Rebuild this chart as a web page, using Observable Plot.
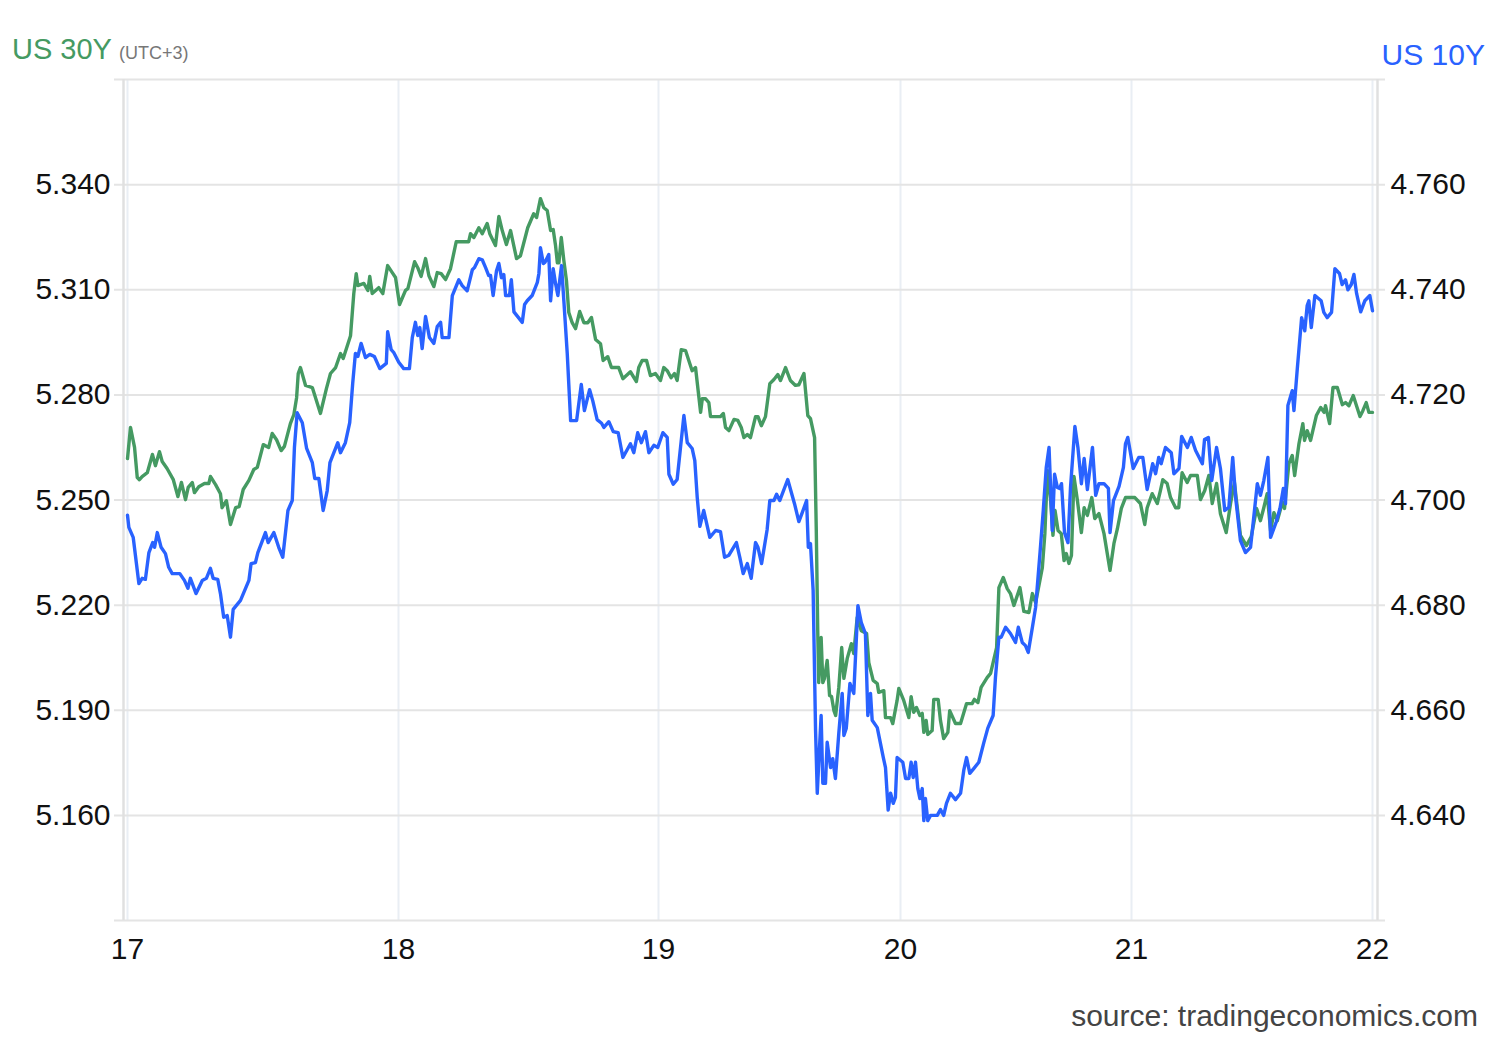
<!DOCTYPE html>
<html>
<head>
<meta charset="utf-8">
<script src="https://cdn.jsdelivr.net/npm/d3@7"></script>
<script src="https://cdn.jsdelivr.net/npm/@observablehq/plot@0.6"></script>
<style>
  html, body { margin: 0; padding: 0; background: #fff; }
  #chart { width: 1500px; height: 1040px; }
</style>
</head>
<body>
<div id="chart"></div>
<script>
// ---- data ----
const days = [17, 18, 19, 20, 21, 22];
const leftTicks = [5.16, 5.19, 5.22, 5.25, 5.28, 5.31, 5.34];
const rightTicks = [4.64, 4.66, 4.68, 4.70, 4.72, 4.74, 4.76];
const gridLevels = [5.13, 5.16, 5.19, 5.22, 5.25, 5.28, 5.31, 5.34, 5.37];

// US 30Y yield: [day (fractional, UTC+3), value]
const us30Y = [
[17.000,5.2618],[17.011,5.2707],[17.026,5.2650],[17.036,5.2564],[17.044,5.2558],[17.054,5.2567],[17.073,5.2578],[17.092,5.2630],[17.103,5.2598],[17.118,5.2638],
[17.128,5.2610],[17.146,5.2590],[17.169,5.2558],[17.186,5.2510],[17.199,5.2550],[17.214,5.2501],[17.224,5.2536],[17.239,5.2550],[17.247,5.2521],[17.263,5.2538],
[17.284,5.2547],[17.300,5.2547],[17.306,5.2567],[17.325,5.2544],[17.343,5.2518],[17.349,5.2478],[17.365,5.2498],[17.380,5.2430],[17.399,5.2478],[17.412,5.2481],
[17.427,5.2530],[17.448,5.2556],[17.466,5.2587],[17.479,5.2593],[17.501,5.2658],[17.521,5.2650],[17.534,5.2690],[17.550,5.2672],[17.567,5.2641],[17.579,5.2653],
[17.601,5.2718],[17.614,5.2744],[17.624,5.2792],[17.630,5.2861],[17.638,5.2878],[17.657,5.2827],[17.682,5.2821],[17.712,5.2747],[17.734,5.2818],[17.749,5.2861],
[17.768,5.2878],[17.786,5.2918],[17.796,5.2904],[17.823,5.2969],[17.835,5.3089],[17.844,5.3146],[17.850,5.3112],[17.872,5.3118],[17.887,5.3098],[17.894,5.3138],
[17.903,5.3089],[17.927,5.3106],[17.942,5.3089],[17.960,5.3169],[17.977,5.3149],[17.989,5.3135],[18.004,5.3058],[18.027,5.3098],[18.036,5.3103],[18.062,5.3180],
[18.074,5.3163],[18.087,5.3138],[18.104,5.3189],[18.117,5.3140],[18.136,5.3109],[18.149,5.3149],[18.164,5.3146],[18.181,5.3129],[18.200,5.3160],[18.222,5.3237],
[18.270,5.3237],[18.277,5.3260],[18.290,5.3249],[18.309,5.3277],[18.322,5.3260],[18.341,5.3289],[18.351,5.3260],[18.373,5.3226],[18.386,5.3309],[18.399,5.3269],
[18.415,5.3229],[18.431,5.3269],[18.454,5.3189],[18.469,5.3197],[18.497,5.3277],[18.520,5.3317],[18.531,5.3306],[18.546,5.3360],[18.559,5.3334],[18.572,5.3326],
[18.585,5.3269],[18.595,5.3272],[18.604,5.3226],[18.611,5.3177],[18.617,5.3177],[18.626,5.3249],[18.636,5.3183],[18.646,5.3126],[18.655,5.3035],[18.668,5.3006],
[18.681,5.2989],[18.697,5.3038],[18.713,5.3006],[18.728,5.3006],[18.742,5.3021],[18.758,5.2958],[18.777,5.2946],[18.787,5.2898],[18.805,5.2909],[18.819,5.2878],
[18.847,5.2878],[18.863,5.2846],[18.892,5.2866],[18.915,5.2838],[18.924,5.2878],[18.937,5.2898],[18.954,5.2898],[18.969,5.2855],[18.988,5.2861],[19.008,5.2841],
[19.022,5.2878],[19.036,5.2869],[19.052,5.2849],[19.066,5.2861],[19.077,5.2841],[19.094,5.2929],[19.112,5.2926],[19.139,5.2869],[19.153,5.2878],[19.174,5.2750],
[19.181,5.2789],[19.194,5.2789],[19.208,5.2778],[19.215,5.2738],[19.256,5.2738],[19.268,5.2747],[19.277,5.2707],[19.291,5.2698],[19.312,5.2730],[19.328,5.2727],
[19.342,5.2707],[19.353,5.2678],[19.367,5.2687],[19.380,5.2678],[19.401,5.2738],[19.411,5.2738],[19.425,5.2712],[19.442,5.2738],[19.460,5.2832],[19.477,5.2844],
[19.493,5.2858],[19.504,5.2841],[19.525,5.2878],[19.545,5.2841],[19.566,5.2827],[19.580,5.2829],[19.601,5.2861],[19.617,5.2741],[19.628,5.2732],[19.645,5.2678],
[19.652,5.2413],[19.658,5.2127],[19.662,5.1979],[19.672,5.2108],[19.679,5.1979],[19.686,5.1991],[19.697,5.2042],[19.707,5.1942],[19.715,5.1939],[19.725,5.1899],
[19.732,5.1885],[19.745,5.1965],[19.757,5.2079],[19.766,5.1991],[19.780,5.2048],[19.797,5.2090],[19.807,5.2062],[19.821,5.2165],[19.838,5.2127],[19.860,5.2119],
[19.869,5.2036],[19.887,5.1985],[19.904,5.1976],[19.910,5.1951],[19.931,5.1956],[19.938,5.1879],[19.959,5.1879],[19.968,5.1862],[19.986,5.1928],[19.993,5.1962],
[20.014,5.1928],[20.036,5.1879],[20.046,5.1939],[20.057,5.1894],[20.069,5.1908],[20.084,5.1885],[20.094,5.1891],[20.101,5.1837],[20.111,5.1871],[20.118,5.1831],
[20.137,5.1842],[20.144,5.1931],[20.163,5.1931],[20.173,5.1871],[20.187,5.1819],[20.205,5.1837],[20.213,5.1899],[20.238,5.1862],[20.260,5.1862],[20.286,5.1919],
[20.310,5.1919],[20.320,5.1931],[20.335,5.1922],[20.349,5.1965],[20.375,5.1993],[20.390,5.2005],[20.416,5.2079],[20.426,5.2250],[20.445,5.2279],[20.462,5.2247],
[20.476,5.2233],[20.491,5.2199],[20.517,5.2250],[20.534,5.2182],[20.556,5.2179],[20.571,5.2233],[20.585,5.2207],[20.614,5.2307],[20.625,5.2404],[20.636,5.2584],
[20.650,5.2498],[20.660,5.2399],[20.669,5.2470],[20.682,5.2413],[20.696,5.2404],[20.708,5.2327],[20.718,5.2347],[20.729,5.2319],[20.740,5.2342],[20.751,5.2567],
[20.766,5.2498],[20.783,5.2407],[20.795,5.2478],[20.809,5.2456],[20.828,5.2507],[20.841,5.2447],[20.859,5.2461],[20.881,5.2404],[20.907,5.2299],[20.924,5.2376],
[20.939,5.2418],[20.956,5.2476],[20.974,5.2507],[21.014,5.2507],[21.037,5.2490],[21.055,5.2430],[21.065,5.2478],[21.086,5.2518],[21.107,5.2490],[21.120,5.2527],
[21.130,5.2558],[21.148,5.2547],[21.162,5.2507],[21.183,5.2478],[21.196,5.2478],[21.210,5.2578],[21.231,5.2550],[21.245,5.2570],[21.273,5.2570],[21.286,5.2501],
[21.304,5.2527],[21.321,5.2570],[21.335,5.2490],[21.353,5.2547],[21.369,5.2461],[21.393,5.2407],[21.411,5.2490],[21.427,5.2550],[21.452,5.2399],[21.477,5.2370],
[21.497,5.2396],[21.519,5.2476],[21.535,5.2441],[21.549,5.2478],[21.563,5.2518],[21.577,5.2413],[21.591,5.2464],[21.605,5.2441],[21.626,5.2493],[21.635,5.2476],
[21.653,5.2604],[21.667,5.2627],[21.677,5.2570],[21.695,5.2661],[21.711,5.2718],[21.718,5.2670],[21.729,5.2698],[21.743,5.2670],[21.767,5.2741],[21.785,5.2764],
[21.799,5.2750],[21.805,5.2769],[21.822,5.2718],[21.836,5.2821],[21.854,5.2821],[21.875,5.2772],[21.888,5.2778],[21.902,5.2769],[21.920,5.2798],[21.948,5.2738],
[21.960,5.2755],[21.974,5.2778],[21.985,5.2750],[22.000,5.2750]
];

// US 10Y yield: [day (fractional, UTC+3), value]
const us10Y = [
[17.000,4.6971],[17.005,4.6948],[17.021,4.6929],[17.042,4.6841],[17.054,4.6851],[17.066,4.6849],[17.079,4.6900],[17.093,4.6919],[17.100,4.6910],[17.110,4.6938],
[17.124,4.6910],[17.140,4.6898],[17.152,4.6872],[17.165,4.6860],[17.193,4.6860],[17.210,4.6847],[17.223,4.6832],[17.232,4.6851],[17.253,4.6822],[17.276,4.6847],
[17.291,4.6851],[17.306,4.6870],[17.316,4.6851],[17.333,4.6849],[17.343,4.6822],[17.355,4.6777],[17.368,4.6780],[17.380,4.6739],[17.390,4.6792],[17.417,4.6809],
[17.448,4.6847],[17.456,4.6879],[17.472,4.6881],[17.481,4.6900],[17.509,4.6938],[17.519,4.6919],[17.540,4.6938],[17.558,4.6910],[17.573,4.6891],[17.592,4.6980],
[17.608,4.6999],[17.616,4.7100],[17.626,4.7166],[17.645,4.7147],[17.661,4.7098],[17.682,4.7071],[17.691,4.7041],[17.706,4.7041],[17.722,4.6980],[17.737,4.7018],
[17.747,4.7071],[17.776,4.7109],[17.786,4.7090],[17.804,4.7109],[17.820,4.7147],[17.831,4.7222],[17.841,4.7279],[17.850,4.7273],[17.862,4.7298],[17.878,4.7271],
[17.894,4.7277],[17.911,4.7273],[17.931,4.7250],[17.955,4.7260],[17.960,4.7320],[17.973,4.7286],[17.982,4.7281],[18.001,4.7262],[18.020,4.7250],[18.042,4.7250],
[18.053,4.7309],[18.065,4.7338],[18.074,4.7313],[18.082,4.7328],[18.091,4.7288],[18.104,4.7349],[18.119,4.7309],[18.136,4.7298],[18.149,4.7330],[18.162,4.7338],
[18.168,4.7309],[18.194,4.7309],[18.207,4.7389],[18.232,4.7419],[18.245,4.7408],[18.264,4.7398],[18.284,4.7438],[18.292,4.7442],[18.309,4.7459],[18.322,4.7457],
[18.335,4.7442],[18.347,4.7427],[18.354,4.7427],[18.364,4.7389],[18.377,4.7436],[18.386,4.7450],[18.396,4.7423],[18.405,4.7429],[18.412,4.7389],[18.427,4.7389],
[18.434,4.7419],[18.444,4.7358],[18.476,4.7338],[18.485,4.7372],[18.495,4.7379],[18.514,4.7389],[18.534,4.7414],[18.540,4.7431],[18.546,4.7480],[18.557,4.7450],
[18.563,4.7452],[18.578,4.7467],[18.585,4.7379],[18.595,4.7440],[18.604,4.7412],[18.613,4.7389],[18.627,4.7446],[18.636,4.7379],[18.649,4.7279],[18.662,4.7151],
[18.685,4.7151],[18.703,4.7220],[18.715,4.7170],[18.735,4.7210],[18.747,4.7189],[18.764,4.7153],[18.781,4.7146],[18.790,4.7138],[18.809,4.7149],[18.826,4.7130],
[18.845,4.7128],[18.863,4.7081],[18.880,4.7096],[18.892,4.7107],[18.905,4.7090],[18.920,4.7128],[18.934,4.7109],[18.950,4.7130],[18.963,4.7090],[18.982,4.7104],
[18.997,4.7100],[19.018,4.7128],[19.036,4.7119],[19.043,4.7049],[19.061,4.7030],[19.077,4.7039],[19.091,4.7100],[19.105,4.7161],[19.119,4.7109],[19.139,4.7098],
[19.150,4.7075],[19.160,4.7005],[19.171,4.6950],[19.187,4.6980],[19.212,4.6929],[19.236,4.6942],[19.256,4.6940],[19.273,4.6891],[19.291,4.6895],[19.322,4.6919],
[19.336,4.6891],[19.350,4.6860],[19.367,4.6879],[19.383,4.6851],[19.401,4.6919],[19.411,4.6910],[19.426,4.6879],[19.449,4.6944],[19.460,4.6999],[19.477,4.6999],
[19.488,4.7011],[19.501,4.6999],[19.534,4.7039],[19.562,4.6993],[19.580,4.6959],[19.594,4.6976],[19.612,4.6999],[19.619,4.6910],[19.628,4.6917],[19.639,4.6828],
[19.649,4.6562],[19.656,4.6442],[19.662,4.6499],[19.672,4.6590],[19.679,4.6461],[19.690,4.6461],[19.697,4.6539],[19.711,4.6491],[19.720,4.6508],[19.731,4.6470],
[19.745,4.6556],[19.759,4.6632],[19.766,4.6552],[19.776,4.6566],[19.791,4.6651],[19.807,4.6632],[19.824,4.6799],[19.838,4.6767],[19.855,4.6746],[19.865,4.6590],
[19.876,4.6632],[19.883,4.6581],[19.904,4.6567],[19.929,4.6510],[19.938,4.6491],[19.949,4.6410],[19.959,4.6442],[19.970,4.6423],[19.979,4.6434],[19.986,4.6510],
[20.010,4.6501],[20.022,4.6470],[20.036,4.6470],[20.046,4.6501],[20.055,4.6472],[20.065,4.6501],[20.075,4.6451],[20.084,4.6432],[20.094,4.6451],[20.101,4.6390],
[20.108,4.6432],[20.118,4.6390],[20.130,4.6400],[20.159,4.6400],[20.173,4.6411],[20.187,4.6400],[20.199,4.6423],[20.216,4.6442],[20.238,4.6430],[20.260,4.6442],
[20.274,4.6486],[20.286,4.6510],[20.300,4.6480],[20.317,4.6489],[20.339,4.6501],[20.361,4.6539],[20.378,4.6566],[20.401,4.6590],[20.411,4.6662],[20.426,4.6739],
[20.436,4.6739],[20.455,4.6758],[20.476,4.6746],[20.498,4.6729],[20.510,4.6758],[20.527,4.6729],[20.541,4.6723],[20.553,4.6710],[20.571,4.6758],[20.585,4.6796],
[20.604,4.6900],[20.618,4.6980],[20.631,4.7062],[20.643,4.7100],[20.657,4.6942],[20.667,4.7049],[20.679,4.7024],[20.689,4.7022],[20.697,4.7031],[20.710,4.6938],
[20.725,4.6919],[20.736,4.7024],[20.755,4.7140],[20.768,4.7100],[20.783,4.7031],[20.795,4.7079],[20.809,4.7020],[20.831,4.7100],[20.845,4.7009],[20.859,4.7031],
[20.881,4.7031],[20.900,4.7022],[20.907,4.6938],[20.922,4.6999],[20.946,4.7026],[20.965,4.7062],[20.974,4.7107],[20.984,4.7119],[21.007,4.7060],[21.030,4.7081],
[21.047,4.7081],[21.065,4.7020],[21.088,4.7069],[21.100,4.7050],[21.113,4.7081],[21.123,4.7069],[21.141,4.7100],[21.165,4.7090],[21.176,4.7050],[21.197,4.7060],
[21.208,4.7121],[21.232,4.7100],[21.248,4.7119],[21.266,4.7094],[21.294,4.7069],[21.303,4.7115],[21.319,4.7119],[21.333,4.7037],[21.353,4.7100],[21.369,4.7060],
[21.387,4.6980],[21.404,4.6986],[21.420,4.7081],[21.432,4.7005],[21.452,4.6923],[21.473,4.6900],[21.494,4.6910],[21.522,4.7031],[21.535,4.7009],[21.549,4.7037],
[21.566,4.7081],[21.577,4.6929],[21.601,4.6959],[21.616,4.6984],[21.630,4.7022],[21.639,4.6993],[21.649,4.7180],[21.667,4.7208],[21.674,4.7170],[21.688,4.7250],
[21.706,4.7347],[21.719,4.7322],[21.729,4.7370],[21.736,4.7379],[21.746,4.7328],[21.761,4.7389],[21.787,4.7379],[21.798,4.7357],[21.812,4.7347],[21.830,4.7357],
[21.844,4.7440],[21.863,4.7431],[21.874,4.7410],[21.888,4.7419],[21.898,4.7400],[21.912,4.7410],[21.923,4.7429],[21.934,4.7393],[21.951,4.7358],[21.968,4.7379],
[21.989,4.7389],[22.000,4.7360]
];

// ---- styling / layout ----
const GREEN = "#459a62";
const BLUE = "#2962ff";
const FONT = "'Liberation Sans', Arial, Helvetica, sans-serif";
const dayPositions = [127, 398, 658, 900, 1131, 1372]; // non-uniform trading-time axis

// right axis (US 10Y) mapped onto the left (US 30Y) scale
const L0 = 5.13, R0 = 4.62, K = 1.5;
const toLeft = v => L0 + (v - R0) * K;
const fromLeft = v => R0 + (v - L0) / K;

const chart = Plot.plot({
  width: 1500,
  height: 1040,
  marginTop: 79,
  marginBottom: 120,
  marginLeft: 114,
  marginRight: 115,
  style: { fontFamily: FONT, fontSize: "30px", color: "#111", background: "#fff" },
  x: { type: "linear", domain: days, range: dayPositions },
  y: { domain: [5.13, 5.37] },
  marks: [
    Plot.ruleX(days, { stroke: "#e9eef4", strokeWidth: 2 }),
    Plot.ruleY(gridLevels, { stroke: "#e4e4e4", strokeWidth: 2 }),
    Plot.ruleX([days[0]], { dx: -4, stroke: "#e0e0e0", strokeWidth: 2.5 }),
    Plot.ruleX([days[days.length - 1]], { dx: 5, stroke: "#e0e0e0", strokeWidth: 2.5 }),
    Plot.line(us30Y, { x: d => d[0], y: d => d[1], stroke: GREEN, strokeWidth: 3.4, strokeLinejoin: "round" }),
    Plot.line(us10Y, { x: d => d[0], y: d => toLeft(d[1]), stroke: BLUE, strokeWidth: 3.4, strokeLinejoin: "round" }),
    Plot.axisY({ anchor: "left", ticks: leftTicks, tickFormat: d3.format(".3f"), tickSize: 0, tickPadding: 4, label: null, fontSize: 30 }),
    Plot.axisY({ anchor: "right", ticks: rightTicks.map(toLeft), tickFormat: d => fromLeft(d).toFixed(3), tickSize: 0, tickPadding: 5, label: null, fontSize: 30 }),
    Plot.axisX({ ticks: days, tickFormat: d => String(d), tickSize: 0, tickPadding: 17, label: null, fontSize: 30 })
  ]
});

document.getElementById("chart").appendChild(chart);

// titles and source as real text
const svg = d3.select(chart);
const t1 = svg.append("text").attr("x", 12).attr("y", 59).attr("text-anchor", "start")
  .attr("font-family", FONT).attr("font-size", 29).attr("fill", GREEN);
t1.append("tspan").text("US 30Y");
t1.append("tspan").attr("dx", 7).attr("font-size", 18).attr("fill", "#777").text("(UTC+3)");

svg.append("text").attr("x", 1485).attr("y", 65).attr("text-anchor", "end")
  .attr("font-family", FONT).attr("font-size", 30).attr("fill", BLUE).text("US 10Y");

svg.append("text").attr("x", 1478).attr("y", 1026).attr("text-anchor", "end")
  .attr("font-family", FONT).attr("font-size", 30).attr("fill", "#444").text("source: tradingeconomics.com");
</script>
</body>
</html>
